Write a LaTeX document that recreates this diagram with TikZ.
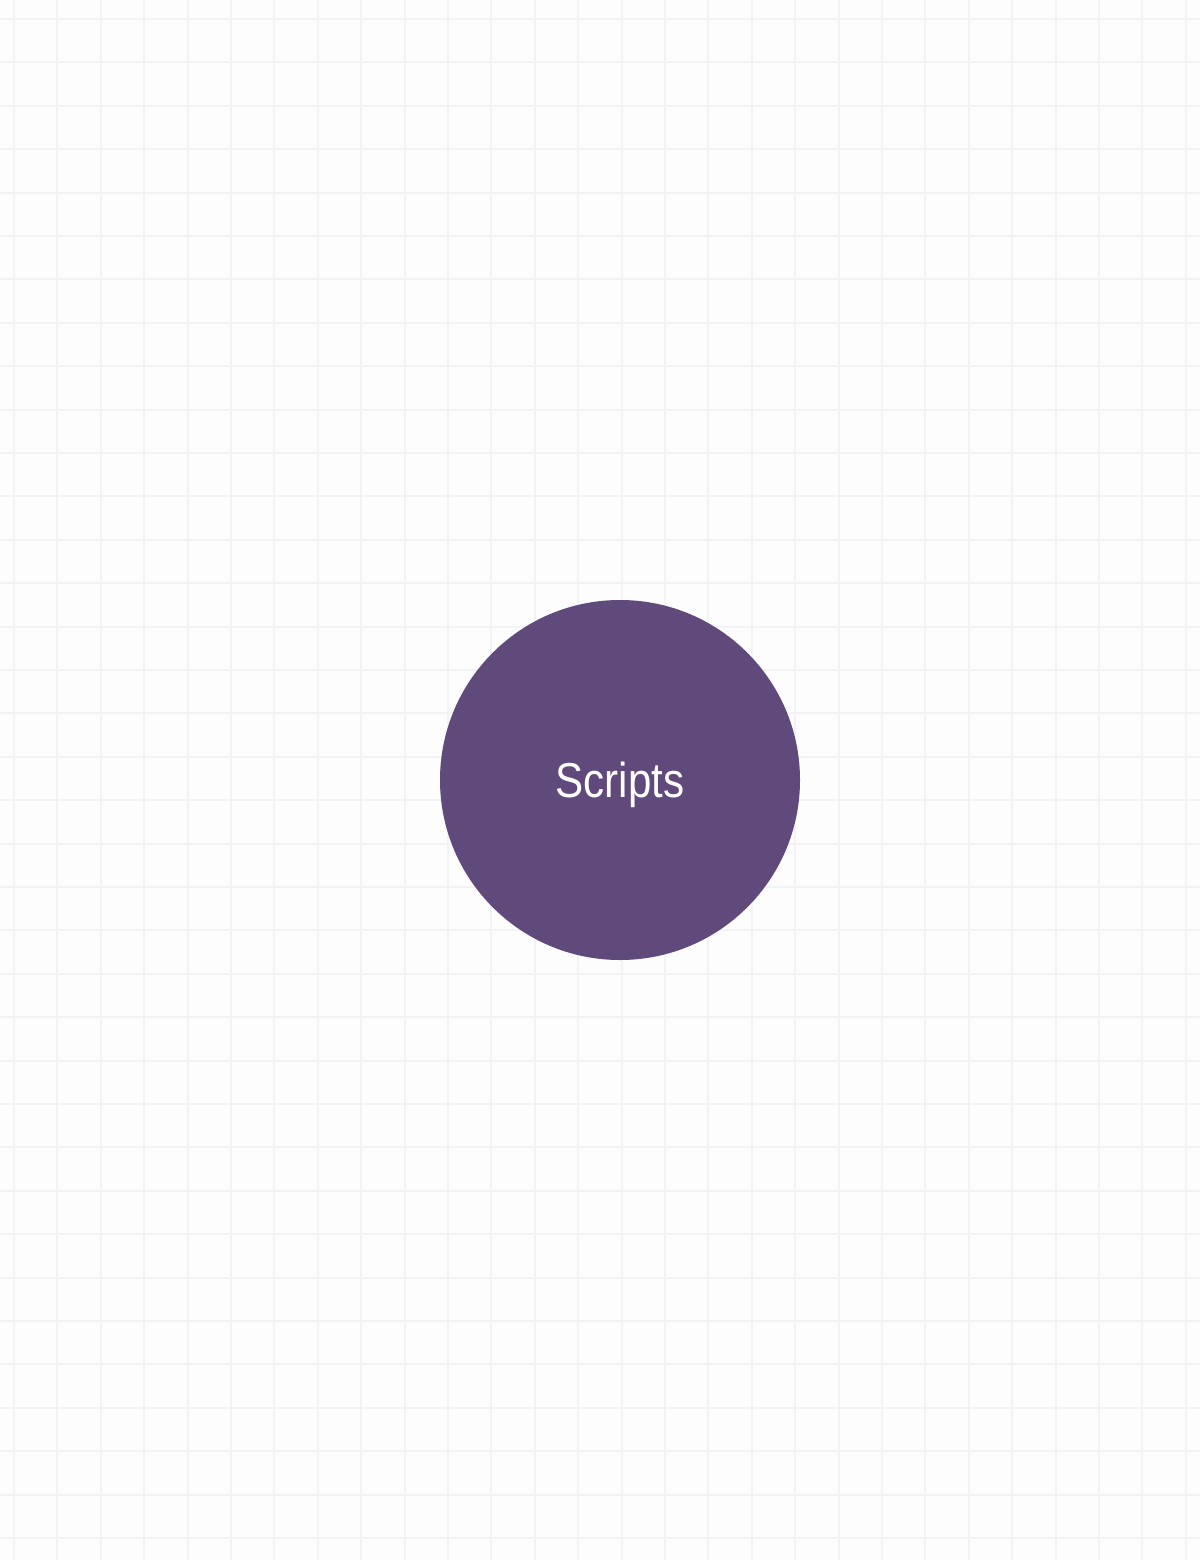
\documentclass[tikz,border=0pt]{standalone}
\usepackage{fontspec}
\setmainfont{Liberation Sans}
\newfontfamily\labelfont[FakeStretch=0.86]{Liberation Sans}
\definecolor{bgcol}{HTML}{FDFDFD}
\definecolor{gridcol}{HTML}{F2F3F5}
\definecolor{scriptcol}{HTML}{604A7B}
\tikzset{
  gridline/.style={draw=gridcol, line width=2pt},
  bubble/.style={circle, fill=scriptcol, draw=none, minimum size=360pt, inner sep=0pt,
    text=white, text height=34pt, text depth=0pt, font=\labelfont\fontsize{49}{55}\selectfont}
}
\begin{document}
\begin{tikzpicture}[x=1pt,y=-1pt]
  \fill[bgcol] (0,0) rectangle (1200,1560);
  \useasboundingbox (0,0) rectangle (1200,1560);
  \foreach \i in {0,...,27} {
    \draw[gridline] ({14+43.4*\i},0) -- ({14+43.4*\i},1560);
  }
  \foreach \j in {0,...,35} {
    \draw[gridline] (0,{19+43.4*\j}) -- (1200,{19+43.4*\j});
  }
  \node[bubble] (scripts) at (620,780) {Scripts};
\end{tikzpicture}
\end{document}
